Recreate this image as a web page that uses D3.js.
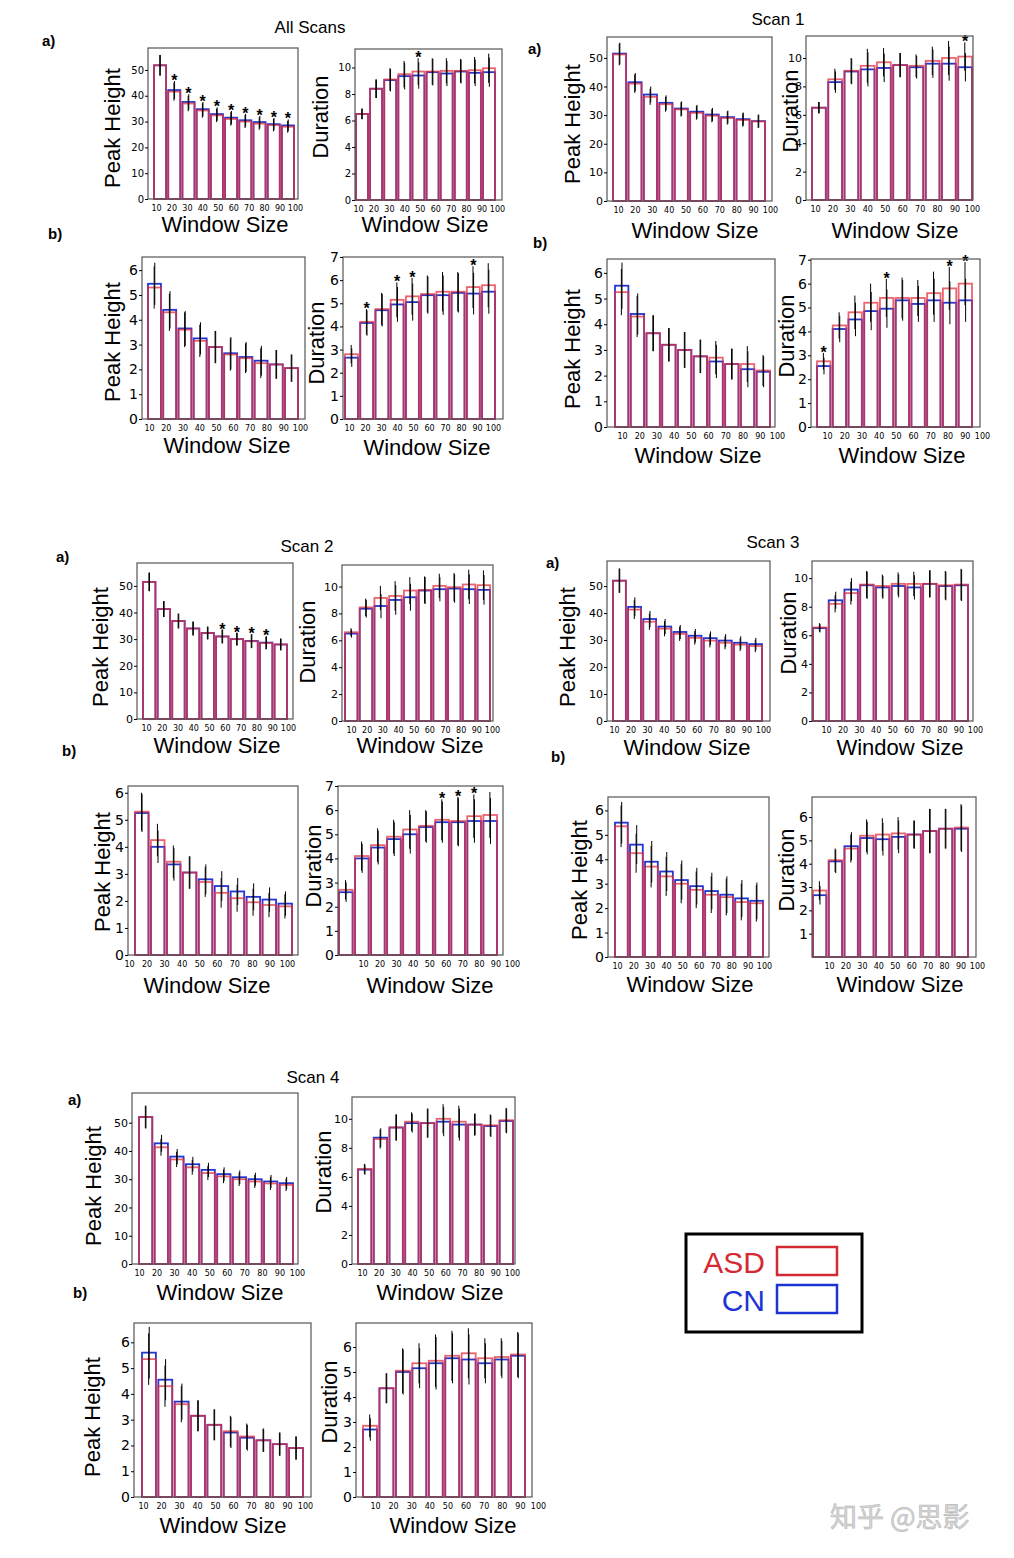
<!DOCTYPE html>
<html>
<head>
<meta charset="utf-8">
<script src="https://cdn.jsdelivr.net/npm/d3@7"></script>
<style>
  body { margin: 0; background: #fff; }
  svg { display: block; }
</style>
</head>
<body>
<div class="container"></div>
<script>
// window sizes on the x axis
var windowSizes = [10, 20, 30, 40, 50, 60, 70, 80, 90, 100];
var xTickLabels = ["10", "20", "30", "40", "50", "60", "70", "80", "90", "100"];

// All Scans
var allA_peakASD = [51.8, 41.6, 37.0, 34.3, 32.4, 31.0, 30.0, 29.2, 28.6, 28.0];
var allA_peakCN  = [51.8, 42.2, 37.6, 34.8, 32.9, 31.5, 30.5, 29.8, 29.0, 28.5];
var allA_peakErr = [4.0, 3.5, 3.0, 2.8, 2.6, 2.6, 2.5, 2.4, 2.4, 2.3];
var allA_peakStars = [20, 30, 40, 50, 60, 70, 80, 90, 100];
var allA_durASD = [6.5, 8.4, 9.1, 9.5, 9.7, 9.7, 9.75, 9.75, 9.8, 9.95];
var allA_durCN  = [6.5, 8.4, 9.05, 9.35, 9.4, 9.65, 9.55, 9.7, 9.6, 9.65];
var allA_durErr = [0.4, 0.7, 0.85, 1.0, 1.0, 1.0, 0.95, 0.9, 1.0, 1.1];
var allA_durStars = [50];
var allB_peakASD = [5.3, 4.3, 3.6, 3.15, 2.9, 2.6, 2.45, 2.25, 2.2, 2.05];
var allB_peakCN  = [5.45, 4.4, 3.65, 3.25, 2.9, 2.65, 2.5, 2.35, 2.2, 2.05];
var allB_peakErr = [0.85, 0.75, 0.7, 0.65, 0.65, 0.65, 0.6, 0.6, 0.58, 0.55];
var allB_peakStars = [];
var allB_durASD = [2.8, 4.2, 4.75, 5.15, 5.3, 5.4, 5.5, 5.5, 5.7, 5.78];
var allB_durCN  = [2.65, 4.15, 4.7, 4.95, 5.05, 5.35, 5.35, 5.45, 5.42, 5.5];
var allB_durErr = [0.4, 0.55, 0.7, 0.75, 0.8, 0.8, 0.85, 0.85, 0.9, 0.95];
var allB_durStars = [20, 40, 50, 90];

// Scan 1
var s1A_peakASD = [51.2, 41.0, 36.4, 33.8, 32.0, 30.8, 29.8, 29.0, 28.3, 27.8];
var s1A_peakCN  = [51.5, 41.5, 37.2, 34.3, 32.3, 31.2, 30.2, 29.3, 28.6, 27.9];
var s1A_peakErr = [3.8, 3.2, 2.8, 2.6, 2.5, 2.4, 2.3, 2.3, 2.3, 2.3];
var s1A_peakStars = [];
var s1A_durASD = [6.5, 8.5, 9.1, 9.45, 9.7, 9.5, 9.45, 9.8, 10.0, 10.1];
var s1A_durCN  = [6.5, 8.3, 9.05, 9.2, 9.3, 9.5, 9.35, 9.6, 9.6, 9.35];
var s1A_durErr = [0.4, 0.75, 0.9, 1.2, 1.0, 0.85, 0.8, 1.0, 1.2, 1.0];
var s1A_durStars = [100];
var s1B_peakASD = [5.25, 4.3, 3.65, 3.2, 3.0, 2.75, 2.7, 2.45, 2.45, 2.2];
var s1B_peakCN  = [5.5, 4.4, 3.65, 3.2, 3.0, 2.75, 2.55, 2.45, 2.25, 2.15];
var s1B_peakErr = [0.9, 0.8, 0.7, 0.65, 0.7, 0.65, 0.65, 0.6, 0.7, 0.6];
var s1B_peakStars = [];
var s1B_durASD = [2.75, 4.25, 4.8, 5.2, 5.4, 5.4, 5.4, 5.6, 5.8, 6.0];
var s1B_durCN  = [2.55, 4.1, 4.5, 4.85, 4.95, 5.3, 5.15, 5.3, 5.2, 5.3];
var s1B_durErr = [0.35, 0.55, 0.7, 0.8, 0.8, 0.85, 0.75, 0.9, 0.9, 0.9];
var s1B_durStars = [10, 50, 90, 100];

// Scan 2
var s2A_peakASD = [51.5, 41.3, 36.8, 34.0, 32.3, 31.0, 30.0, 29.2, 28.5, 28.0];
var s2A_peakCN  = [51.5, 41.3, 36.8, 34.0, 32.3, 31.0, 30.0, 29.3, 28.7, 28.0];
var s2A_peakErr = [3.5, 3.0, 2.8, 2.6, 2.4, 2.6, 2.4, 2.6, 2.4, 2.2];
var s2A_peakStars = [60, 70, 80, 90];
var s2A_durASD = [6.6, 8.45, 9.15, 9.3, 9.7, 9.75, 10.05, 9.95, 10.15, 10.1];
var s2A_durCN  = [6.5, 8.35, 8.55, 9.0, 9.2, 9.7, 9.8, 9.85, 9.8, 9.75];
var s2A_durErr = [0.3, 0.65, 0.9, 1.1, 1.0, 1.0, 0.9, 1.05, 1.1, 1.1];
var s2A_durStars = [];
var s2B_peakASD = [5.3, 4.25, 3.45, 3.05, 2.7, 2.3, 2.1, 1.95, 1.85, 1.8];
var s2B_peakCN  = [5.25, 4.0, 3.35, 3.05, 2.8, 2.55, 2.35, 2.15, 2.05, 1.9];
var s2B_peakErr = [0.7, 0.6, 0.6, 0.6, 0.55, 0.55, 0.5, 0.5, 0.45, 0.45];
var s2B_peakStars = [];
var s2B_durASD = [2.7, 4.1, 4.55, 4.9, 5.2, 5.35, 5.6, 5.55, 5.75, 5.8];
var s2B_durCN  = [2.6, 4.0, 4.45, 4.8, 5.0, 5.3, 5.5, 5.5, 5.55, 5.55];
var s2B_durErr = [0.4, 0.6, 0.7, 0.7, 0.8, 0.65, 0.85, 1.0, 0.9, 0.95];
var s2B_durStars = [70, 80, 90];

// Scan 3
var s3A_peakASD = [52.0, 41.3, 36.8, 34.2, 32.3, 30.8, 29.8, 29.0, 28.3, 27.8];
var s3A_peakCN  = [52.0, 42.3, 37.8, 35.0, 33.0, 31.6, 30.7, 29.8, 29.0, 28.5];
var s3A_peakErr = [4.5, 3.5, 3.0, 2.8, 2.6, 2.5, 2.5, 2.4, 2.4, 2.3];
var s3A_peakStars = [];
var s3A_durASD = [6.55, 8.2, 8.95, 9.55, 9.45, 9.6, 9.6, 9.6, 9.5, 9.55];
var s3A_durCN  = [6.5, 8.45, 9.2, 9.5, 9.35, 9.45, 9.35, 9.6, 9.45, 9.5];
var s3A_durErr = [0.3, 0.6, 0.8, 0.95, 0.8, 0.8, 0.85, 0.95, 1.0, 1.1];
var s3A_durStars = [];
var s3B_peakASD = [5.35, 4.25, 3.7, 3.3, 3.0, 2.75, 2.55, 2.45, 2.25, 2.2];
var s3B_peakCN  = [5.5, 4.6, 3.9, 3.5, 3.15, 2.9, 2.7, 2.55, 2.4, 2.3];
var s3B_peakErr = [0.85, 0.8, 0.85, 0.8, 0.8, 0.75, 0.75, 0.75, 0.75, 0.75];
var s3B_peakStars = [];
var s3B_durASD = [2.85, 4.15, 4.65, 5.2, 5.25, 5.3, 5.25, 5.4, 5.5, 5.55];
var s3B_durCN  = [2.65, 4.1, 4.75, 5.1, 5.05, 5.15, 5.25, 5.4, 5.5, 5.5];
var s3B_durErr = [0.4, 0.5, 0.6, 0.7, 0.7, 0.7, 0.6, 0.95, 0.85, 1.0];
var s3B_durStars = [];

// Scan 4
var s4A_peakASD = [52.0, 41.3, 37.0, 34.2, 32.2, 31.0, 30.0, 29.2, 28.5, 28.0];
var s4A_peakCN  = [52.0, 42.7, 38.0, 35.3, 33.3, 31.8, 30.7, 30.0, 29.2, 28.6];
var s4A_peakErr = [4.0, 3.0, 2.7, 2.6, 2.5, 2.4, 2.4, 2.3, 2.3, 2.2];
var s4A_peakStars = [];
var s4A_durASD = [6.55, 8.6, 9.4, 9.8, 9.7, 10.0, 9.8, 9.6, 9.55, 9.9];
var s4A_durCN  = [6.5, 8.7, 9.4, 9.7, 9.7, 9.8, 9.6, 9.6, 9.5, 9.85];
var s4A_durErr = [0.35, 0.65, 0.9, 0.65, 1.0, 1.0, 1.1, 0.75, 0.75, 0.85];
var s4A_durStars = [];
var s4B_peakASD = [5.35, 4.3, 3.6, 3.15, 2.8, 2.55, 2.35, 2.2, 2.05, 1.9];
var s4B_peakCN  = [5.6, 4.55, 3.7, 3.15, 2.8, 2.5, 2.3, 2.2, 2.05, 1.9];
var s4B_peakErr = [1.0, 0.8, 0.7, 0.6, 0.6, 0.6, 0.5, 0.45, 0.45, 0.45];
var s4B_peakStars = [];
var s4B_durASD = [2.85, 4.35, 5.05, 5.35, 5.45, 5.65, 5.75, 5.55, 5.6, 5.7];
var s4B_durCN  = [2.7, 4.35, 5.0, 5.15, 5.35, 5.55, 5.5, 5.35, 5.5, 5.65];
var s4B_durErr = [0.45, 0.6, 0.9, 0.8, 1.05, 1.0, 1.0, 0.8, 0.75, 0.9];
var s4B_durStars = [];

var tens = [0, 10, 20, 30, 40, 50];
var twos = [0, 2, 4, 6, 8, 10];

// where each panel sits on the page
var panels = [
  {asd: allA_peakASD, cn: allA_peakCN, err: allA_peakErr, stars: allA_peakStars, label: "Peak Height",
   box: [148, 48, 298, 199], ymax: 58.5, yticks: tens, yfont: 10, bars: [154, 294], xt: [156, 295], ylab: [112, 128], xlab: [225, 232]},
  {asd: allA_durASD, cn: allA_durCN, err: allA_durErr, stars: allA_durStars, label: "Duration",
   box: [355, 49, 502, 200], ymax: 11.4, yticks: twos, yfont: 10, bars: [356, 495], xt: [358, 497], ylab: [320, 117], xlab: [425, 232]},
  {asd: allB_peakASD, cn: allB_peakCN, err: allB_peakErr, stars: allB_peakStars, label: "Peak Height",
   box: [142, 257, 305, 419], ymax: 6.53, yticks: d3.range(0, 7), yfont: 14, bars: [148, 298], xt: [149, 300], ylab: [112, 342], xlab: [227, 453]},
  {asd: allB_durASD, cn: allB_durCN, err: allB_durErr, stars: allB_durStars, label: "Duration",
   box: [343, 257, 503, 419], ymax: 7.0, yticks: d3.range(0, 8), yfont: 14, bars: [345, 495], xt: [349, 493], ylab: [316, 343], xlab: [427, 455]},

  {asd: s1A_peakASD, cn: s1A_peakCN, err: s1A_peakErr, stars: s1A_peakStars, label: "Peak Height",
   box: [607, 37, 772, 201], ymax: 57.3, yticks: tens, yfont: 11, bars: [613, 765], xt: [618, 770], ylab: [572, 124], xlab: [695, 238]},
  {asd: s1A_durASD, cn: s1A_durCN, err: s1A_durErr, stars: s1A_durStars, label: "Duration",
   box: [806, 36, 973, 200], ymax: 11.55, yticks: twos, yfont: 11, bars: [812, 972], xt: [815, 972], ylab: [790, 111], xlab: [895, 238]},
  {asd: s1B_peakASD, cn: s1B_peakCN, err: s1B_peakErr, stars: s1B_peakStars, label: "Peak Height",
   box: [607, 259, 775, 427], ymax: 6.54, yticks: d3.range(0, 7), yfont: 14, bars: [615, 770], xt: [622, 777], ylab: [572, 349], xlab: [698, 463]},
  {asd: s1B_durASD, cn: s1B_durCN, err: s1B_durErr, stars: s1B_durStars, label: "Duration",
   box: [811, 259, 980, 427], ymax: 7.03, yticks: d3.range(0, 8), yfont: 14, bars: [817, 972], xt: [827, 982], ylab: [786, 336], xlab: [902, 463]},

  {asd: s2A_peakASD, cn: s2A_peakCN, err: s2A_peakErr, stars: s2A_peakStars, label: "Peak Height",
   box: [137, 563, 293, 719], ymax: 58.6, yticks: tens, yfont: 11, bars: [143, 287], xt: [146, 288], ylab: [100, 647], xlab: [217, 753]},
  {asd: s2A_durASD, cn: s2A_durCN, err: s2A_durErr, stars: s2A_durStars, label: "Duration",
   box: [342, 565, 493, 721], ymax: 11.6, yticks: twos, yfont: 11, bars: [345, 490], xt: [351, 492], ylab: [307, 642], xlab: [420, 753]},
  {asd: s2B_peakASD, cn: s2B_peakCN, err: s2B_peakErr, stars: s2B_peakStars, label: "Peak Height",
   box: [128, 786, 298, 955], ymax: 6.25, yticks: d3.range(0, 7), yfont: 14, bars: [135, 292], xt: [129, 287], ylab: [102, 872], xlab: [207, 993]},
  {asd: s2B_durASD, cn: s2B_durCN, err: s2B_durErr, stars: s2B_durStars, label: "Duration",
   box: [338, 786, 503, 955], ymax: 7.0, yticks: d3.range(0, 8), yfont: 14, bars: [339, 497], xt: [363, 512], ylab: [313, 866], xlab: [430, 993]},

  {asd: s3A_peakASD, cn: s3A_peakCN, err: s3A_peakErr, stars: s3A_peakStars, label: "Peak Height",
   box: [607, 561, 770, 721], ymax: 59.3, yticks: tens, yfont: 11, bars: [613, 762], xt: [614, 763], ylab: [567, 647], xlab: [687, 755]},
  {asd: s3A_durASD, cn: s3A_durCN, err: s3A_durErr, stars: s3A_durStars, label: "Duration",
   box: [812, 561, 973, 721], ymax: 11.2, yticks: twos, yfont: 11, bars: [813, 968], xt: [826, 975], ylab: [788, 633], xlab: [900, 755]},
  {asd: s3B_peakASD, cn: s3B_peakCN, err: s3B_peakErr, stars: s3B_peakStars, label: "Peak Height",
   box: [608, 797, 769, 957], ymax: 6.55, yticks: d3.range(0, 7), yfont: 14, bars: [615, 763], xt: [617, 764], ylab: [579, 880], xlab: [690, 992]},
  {asd: s3B_durASD, cn: s3B_durCN, err: s3B_durErr, stars: s3B_durStars, label: "Duration",
   box: [812, 797, 976, 957], ymax: 6.86, yticks: d3.range(1, 7), yfont: 14, bars: [813, 968], xt: [829, 977], ylab: [786, 870], xlab: [900, 992]},

  {asd: s4A_peakASD, cn: s4A_peakCN, err: s4A_peakErr, stars: s4A_peakStars, label: "Peak Height",
   box: [132, 1093, 298, 1264], ymax: 60.5, yticks: tens, yfont: 11, bars: [139, 293], xt: [139, 297], ylab: [93, 1186], xlab: [220, 1300]},
  {asd: s4A_durASD, cn: s4A_durCN, err: s4A_durErr, stars: s4A_durStars, label: "Duration",
   box: [352, 1097, 515, 1264], ymax: 11.5, yticks: twos, yfont: 11, bars: [358, 513], xt: [362, 512], ylab: [323, 1172], xlab: [440, 1300]},
  {asd: s4B_peakASD, cn: s4B_peakCN, err: s4B_peakErr, stars: s4B_peakStars, label: "Peak Height",
   box: [134, 1323, 311, 1497], ymax: 6.75, yticks: d3.range(0, 7), yfont: 14, bars: [142, 303], xt: [143, 305], ylab: [92, 1417], xlab: [223, 1533]},
  {asd: s4B_durASD, cn: s4B_durCN, err: s4B_durErr, stars: s4B_durStars, label: "Duration",
   box: [356, 1323, 532, 1497], ymax: 6.96, yticks: d3.range(0, 7), yfont: 14, bars: [363, 525], xt: [375, 538], ylab: [329, 1402], xlab: [453, 1533]}
];

var titles = [
  {text: "All Scans", x: 310, y: 33},
  {text: "Scan 1", x: 778, y: 25},
  {text: "Scan 2", x: 307, y: 552},
  {text: "Scan 3", x: 773, y: 548},
  {text: "Scan 4", x: 313, y: 1083}
];
var letters = [
  {text: "a)", x: 42, y: 46}, {text: "b)", x: 48, y: 239},
  {text: "a)", x: 528, y: 54}, {text: "b)", x: 533, y: 248},
  {text: "a)", x: 56, y: 562}, {text: "b)", x: 62, y: 756},
  {text: "a)", x: 546, y: 568}, {text: "b)", x: 551, y: 762},
  {text: "a)", x: 68, y: 1105}, {text: "b)", x: 73, y: 1298}
];

var width = 1014;
var height = 1558;
var sans = "'Liberation Sans', Arial, Helvetica, sans-serif";
var tickFont = "'DejaVu Sans', sans-serif";
var red = "#e3303f";
var blue = "#2436d0";

var svg = d3.select(".container").append("svg")
    .attr("width", width)
    .attr("height", height);

function drawPanel(p) {
  var x0 = p.box[0], y0 = p.box[1], x1 = p.box[2], y1 = p.box[3];
  var g = svg.append("g");

  var x = d3.scaleBand().domain(windowSizes).range(p.bars).paddingInner(0.15);
  var y = d3.scaleLinear().domain([0, p.ymax]).range([y1, y0]);
  var xt = d3.scalePoint().domain(xTickLabels).range(p.xt);

  var rows = windowSizes.map(function (w, i) {
    return {w: w, asd: p.asd[i], cn: p.cn[i], err: p.err[i], star: p.stars.indexOf(w) >= 0};
  });

  g.selectAll("rect.cn").data(rows)
    .enter().append("rect")
    .attr("class", "cn")
    .attr("x", function (d) { return x(d.w); })
    .attr("y", function (d) { return y(d.cn); })
    .attr("width", x.bandwidth())
    .attr("height", function (d) { return y1 - y(d.cn); })
    .attr("fill", "none")
    .attr("stroke", blue)
    .attr("stroke-width", 1.8);

  g.selectAll("rect.asd").data(rows)
    .enter().append("rect")
    .attr("class", "asd")
    .attr("x", function (d) { return x(d.w); })
    .attr("y", function (d) { return y(d.asd); })
    .attr("width", x.bandwidth())
    .attr("height", function (d) { return y1 - y(d.asd); })
    .attr("fill", "none")
    .attr("stroke", red)
    .attr("stroke-opacity", 0.75)
    .attr("stroke-width", 1.8);

  // error bars, one per group
  g.selectAll("line.easd").data(rows)
    .enter().append("line")
    .attr("class", "easd")
    .attr("x1", function (d) { return x(d.w) + x.bandwidth() / 2 - 0.3; })
    .attr("x2", function (d) { return x(d.w) + x.bandwidth() / 2 - 0.3; })
    .attr("y1", function (d) { return y(d.asd - d.err); })
    .attr("y2", function (d) { return y(d.asd + d.err); })
    .attr("stroke", "#000")
    .attr("stroke-width", 1);

  g.selectAll("line.ecn").data(rows)
    .enter().append("line")
    .attr("class", "ecn")
    .attr("x1", function (d) { return x(d.w) + x.bandwidth() / 2 + 0.3; })
    .attr("x2", function (d) { return x(d.w) + x.bandwidth() / 2 + 0.3; })
    .attr("y1", function (d) { return y(d.cn - d.err); })
    .attr("y2", function (d) { return y(d.cn + d.err); })
    .attr("stroke", "#000")
    .attr("stroke-width", 1);

  g.selectAll("text.star").data(rows.filter(function (d) { return d.star; }))
    .enter().append("text")
    .attr("class", "star")
    .attr("x", function (d) { return x(d.w) + x.bandwidth() / 2; })
    .attr("y", function (d) { return y(Math.max(d.asd, d.cn) + d.err) + 5; })
    .attr("text-anchor", "middle")
    .attr("font-family", sans)
    .attr("font-size", 16)
    .attr("font-weight", "bold")
    .text("*");

  // frame
  g.append("rect")
    .attr("x", x0).attr("y", y0)
    .attr("width", x1 - x0).attr("height", y1 - y0)
    .attr("fill", "none")
    .attr("stroke", "#555")
    .attr("stroke-width", 1.2);

  var yAxis = g.append("g")
    .attr("transform", "translate(" + x0 + ",0)")
    .call(d3.axisLeft(y).tickValues(p.yticks).tickFormat(d3.format("d")).tickSize(3).tickPadding(1));
  yAxis.select(".domain").remove();
  yAxis.selectAll("text").attr("font-family", tickFont).attr("font-size", p.yfont).attr("fill", "#000");

  var xAxis = g.append("g")
    .attr("transform", "translate(0," + y1 + ")")
    .call(d3.axisBottom(xt).tickSize(0).tickPadding(6));
  xAxis.select(".domain").remove();
  xAxis.selectAll("text").attr("font-family", tickFont).attr("font-size", 8).attr("fill", "#000");

  var fs = 22;
  g.append("text")
    .attr("transform", "translate(" + (p.ylab[0] + fs * 0.36) + "," + p.ylab[1] + ") rotate(-90)")
    .attr("text-anchor", "middle")
    .attr("font-family", sans)
    .attr("font-size", fs)
    .text(p.label);

  g.append("text")
    .attr("x", p.xlab[0]).attr("y", p.xlab[1])
    .attr("text-anchor", "middle")
    .attr("font-family", sans)
    .attr("font-size", fs)
    .text("Window Size");
}

panels.forEach(drawPanel);

svg.selectAll("text.title").data(titles)
  .enter().append("text")
  .attr("class", "title")
  .attr("x", function (d) { return d.x; })
  .attr("y", function (d) { return d.y; })
  .attr("text-anchor", "middle")
  .attr("font-family", sans)
  .attr("font-size", 17)
  .text(function (d) { return d.text; });

svg.selectAll("text.letter").data(letters)
  .enter().append("text")
  .attr("class", "letter")
  .attr("x", function (d) { return d.x; })
  .attr("y", function (d) { return d.y; })
  .attr("font-family", sans)
  .attr("font-size", 15)
  .attr("font-weight", "bold")
  .text(function (d) { return d.text; });

// legend
var legend = svg.append("g");
legend.append("rect")
  .attr("x", 686).attr("y", 1234).attr("width", 176).attr("height", 98)
  .attr("fill", "#fff").attr("stroke", "#000").attr("stroke-width", 3);
var legendItems = [
  {name: "ASD", color: "#d42a33", y: 1247},
  {name: "CN", color: "#1c34d4", y: 1285}
];
legend.selectAll("rect.key").data(legendItems)
  .enter().append("rect")
  .attr("class", "key")
  .attr("x", 777).attr("y", function (d) { return d.y; })
  .attr("width", 60).attr("height", 28)
  .attr("fill", "none")
  .attr("stroke", function (d) { return d.color; })
  .attr("stroke-width", 2.5);
legend.selectAll("text").data(legendItems)
  .enter().append("text")
  .attr("x", 765).attr("y", function (d) { return d.y + 26; })
  .attr("text-anchor", "end")
  .attr("font-family", sans)
  .attr("font-size", 30)
  .attr("fill", function (d) { return d.color; })
  .text(function (d) { return d.name; });

// watermark
svg.append("text")
  .attr("x", 830).attr("y", 1527)
  .attr("font-family", "'Noto Sans CJK SC', sans-serif")
  .attr("font-size", 27)
  .attr("fill", "#d4d4d4")
  .attr("stroke", "#bbb")
  .attr("stroke-width", 0.6)
  .text("知乎 @思影");
</script>
</body>
</html>
